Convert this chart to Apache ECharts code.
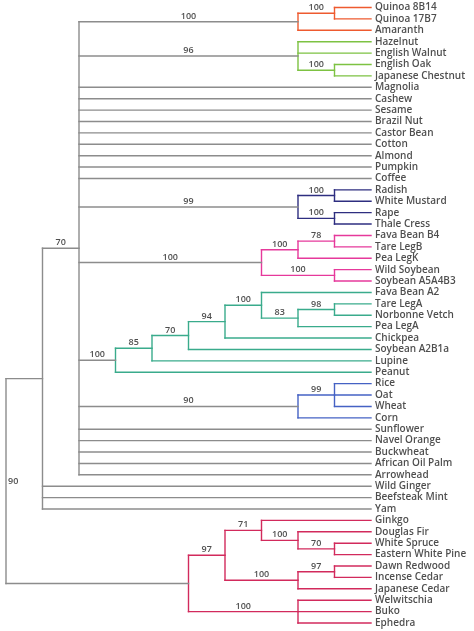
<!DOCTYPE html>
<html><head><meta charset="utf-8">
<script src="https://cdn.jsdelivr.net/npm/echarts@6/dist/echarts.min.js"></script>
<style>html,body{margin:0;padding:0;background:#fff}#c{width:474px;height:631px}</style>
</head><body><div id="c"></div>
<script>
// Tree nodes: [depthLevel, supportLabel, children]; leaves are strings
const amaranthaceae = [8, "100", [[9, "100", ["Quinoa 8B14", "Quinoa 17B7"]], "Amaranth"]];
const fagales = [8, "96", ["Hazelnut", "English Walnut", [9, "100", ["English Oak", "Japanese Chestnut"]]]];
const basalTips1 = ["Magnolia", "Cashew", "Sesame", "Brazil Nut", "Castor Bean", "Cotton", "Almond", "Pumpkin", "Coffee"];
const brassicaceae = [8, "99", [[9, "100", ["Radish", "White Mustard"]], [9, "100", ["Rape", "Thale Cress"]]]];
const legumesA = [7, "100", [[8, "100", [[9, "78", ["Fava Bean B4", "Tare LegB"]], "Pea LegK"]], [9, "100", ["Wild Soybean", "Soybean A5A4B3"]]]];
const legumesB = [3, "100", [[4, "85", [[5, "70", [[6, "94", [[7, "100", ["Fava Bean A2", [8, "83", [[9, "98", ["Tare LegA", "Norbonne Vetch"]], "Pea LegA"]]]], "Chickpea"]], "Soybean A2B1a"]], "Lupine"]], "Peanut"]];
const poaceae = [8, "90", [[9, "99", ["Rice", "Oat", "Wheat"]], "Corn"]];
const basalTips2 = ["Sunflower", "Navel Orange", "Buckwheat", "African Oil Palm", "Arrowhead"];
const angiospermPolytomy = [2, "70", [amaranthaceae, fagales, ...basalTips1, brassicaceae, legumesA, legumesB, poaceae, ...basalTips2]];
const angiosperms = [1, "", [angiospermPolytomy, "Wild Ginger", "Beefsteak Mint", "Yam"]];
const gymnosperms = [5, "", [[6, "97", [[7, "71", ["Ginkgo", [8, "100", ["Douglas Fir", [9, "70", ["White Spruce", "Eastern White Pine"]]]]]], [8, "100", [[9, "97", ["Dawn Redwood", "Incense Cedar"]], "Japanese Cedar"]]]], [8, "100", ["Welwitschia", "Buko", "Ephedra"]]]];
const root = [0, "90", [angiosperms, gymnosperms]];
const tipLevel = 10;

// colours per clade (style)
const cladeColor = new Map([
  [amaranthaceae, "#ee5a2f"], [fagales, "#7dc242"], [brassicaceae, "#2e2e80"],
  [legumesA, "#e6399b"], [legumesB, "#3aab8c"], [poaceae, "#4562c4"], [gymnosperms, "#d22a5c"]
]);
const GRAY = "#8c8c8c";

// layout
const segs = [], tips = [], nodeLabels = [];
let leafIdx = 0;
function layout(node, col) {
  if (typeof node === "string") { const y = leafIdx++; tips.push([tipLevel, y, node]); return {x: tipLevel, y}; }
  const myCol = cladeColor.get(node) || col;
  const kids = node[2].map(k => ({k, p: layout(k, myCol)}));
  const x = node[0];
  const y = (kids[0].p.y + kids[kids.length - 1].p.y) / 2;
  segs.push([x, kids[0].p.y, x, kids[kids.length - 1].p.y, myCol]);
  kids.forEach(({p}) => segs.push([x, p.y, p.x, p.y, myCol]));
  kids.forEach(({k, p}) => { if (typeof k !== "string" && k[1]) nodeLabels.push([(x + p.x) / 2, p.y, k[1]]); });
  return {x, y, col: myCol};
}
const rp = layout(root, GRAY);
const rootLabel = [rp.x, rp.y, root[1]];

const chart = echarts.init(document.getElementById('c'), null, {renderer: 'canvas'});
chart.setOption({
  animation: false,
  grid: {left: 6, right: 103, top: 7.5, bottom: 8},
  xAxis: {type: 'value', min: 0, max: tipLevel, show: false},
  yAxis: {type: 'value', min: 0, max: leafIdx - 1, inverse: true, show: false},
  series: [
    {type: 'custom', data: segs, renderItem: (params, api) => {
      const a = api.coord([api.value(0), api.value(1)]);
      const b = api.coord([api.value(2), api.value(3)]);
      return {type: 'line', shape: {x1: a[0], y1: a[1], x2: b[0], y2: b[1]},
        style: {stroke: segs[params.dataIndex][4], lineWidth: 1.4, lineCap: 'square'}};
    }, encode: {x: [0, 2], y: [1, 3]}},
    {type: 'scatter', symbolSize: 0, data: tips, label: {show: true, position: 'right', distance: 4,
      formatter: p => p.data[2], color: '#222', fontSize: 10, fontFamily: 'Open Sans', fontWeight: 600}},
    {type: 'scatter', symbolSize: 0, data: nodeLabels, label: {show: true, position: 'top', distance: 1,
      formatter: p => p.data[2], color: '#222', fontSize: 9, fontFamily: 'Open Sans', fontWeight: 600}},
    {type: 'scatter', symbolSize: 0, data: [rootLabel], label: {show: true, position: 'right', distance: 2,
      formatter: p => p.data[2], color: '#222', fontSize: 9, fontFamily: 'Open Sans', fontWeight: 600}}
  ]
});
</script></body></html>
